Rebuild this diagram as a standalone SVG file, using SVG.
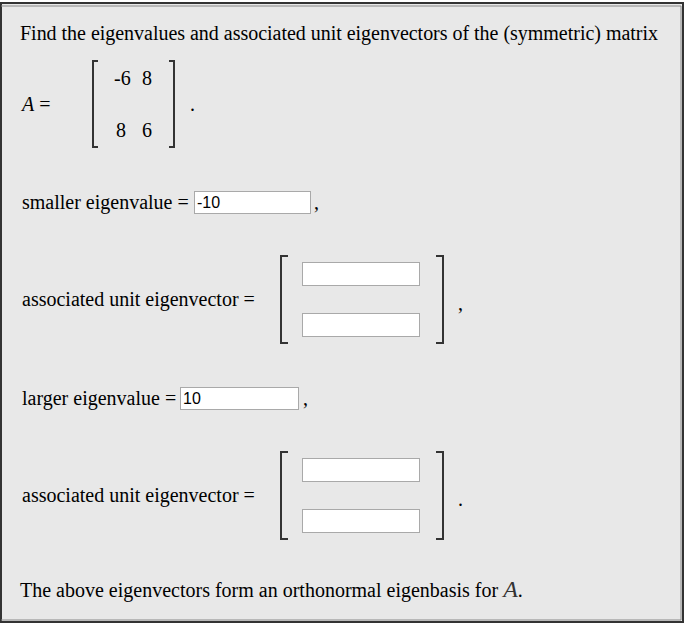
<svg xmlns="http://www.w3.org/2000/svg" width="685" height="628" viewBox="0 0 685 628">
<style>
.t{font-family:"Liberation Serif","Times New Roman",serif;font-size:20px;fill:#000}
.s{font-family:"Liberation Sans",Arial,sans-serif;font-size:16px;fill:#000}
.box{fill:#fff;stroke:#a9a9a9;stroke-width:1}
.br{fill:none;stroke:#333;stroke-width:2}
</style>
<rect x="0" y="0" width="685" height="628" fill="#fff"/>
<rect x="1" y="3" width="682" height="619" fill="#e8e8e8" stroke="#333" stroke-width="2"/>
<path d="M1 6 H681 V620 H1" fill="none" stroke="#888" stroke-width="1"/>
<text class="t" x="20" y="40" textLength="638">Find the eigenvalues and associated unit eigenvectors of the (symmetric) matrix</text>
<text class="t" x="22" y="111" fill="#333" font-size="24"><tspan font-style="italic">A</tspan> =</text>
<path class="br" d="M98 61 H93 V147 H98"/>
<path class="br" d="M169 61 H174 V147 H169"/>
<text class="t" x="114" y="85">-6</text><text class="t" x="142" y="85">8</text>
<text class="t" x="116" y="137">8</text><text class="t" x="142" y="137">6</text>
<text class="t" x="190" y="111">.</text>
<text class="t" x="22" y="209">smaller eigenvalue =</text>
<rect class="box" x="194.5" y="191.5" width="116" height="22"/>
<text class="s" x="197" y="208">-10</text>
<text class="t" x="314" y="209">,</text>
<g>
<text class="t" x="22" y="306">associated unit eigenvector =</text>
<path class="br" d="M288 256 H281 V343 H288"/>
<path class="br" d="M436 256 H443 V343 H436"/>
<rect class="box" x="302.5" y="262.5" width="117" height="23"/>
<rect class="box" x="302.5" y="313.5" width="117" height="23"/>
<text class="t" x="458" y="310">,</text>
</g>
<text class="t" x="22" y="405">larger eigenvalue =</text>
<rect class="box" x="180.5" y="387.5" width="118" height="22"/>
<text class="s" x="183" y="404">10</text>
<text class="t" x="303" y="405">,</text>
<g>
<text class="t" x="22" y="502">associated unit eigenvector =</text>
<path class="br" d="M288 452 H281 V539 H288"/>
<path class="br" d="M436 452 H443 V539 H436"/>
<rect class="box" x="302.5" y="458.5" width="117" height="23"/>
<rect class="box" x="302.5" y="509.5" width="117" height="23"/>
<text class="t" x="458" y="506">.</text>
</g>
<text class="t" x="20" y="597">The above eigenvectors form an orthonormal eigenbasis for <tspan font-style="italic" font-size="24" fill="#333">A</tspan>.</text>
</svg>
